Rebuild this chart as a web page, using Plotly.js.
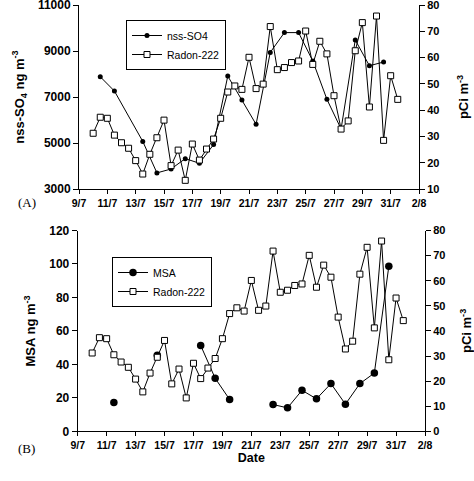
<!DOCTYPE html>
<html><head><meta charset="utf-8">
<script src="https://cdn.plot.ly/plotly-3.0.1.min.js"></script>
<style>body{margin:0;background:#fff}#c{width:474px;height:481px}</style>
</head><body><div id="c"></div>
<script>
// Tick labels
const tickDays = [9, 11, 13, 15, 17, 19, 21, 23, 25, 27, 29, 31, 33];
const tickLabels = ['9/7','11/7','13/7','15/7','17/7','19/7','21/7','23/7','25/7','27/7','29/7','31/7','2/8'];
const nssTicks = [3000, 5000, 7000, 9000, 11000];
const radonTicksTop = [10, 20, 30, 40, 50, 60, 70, 80];
const msaTicks = [0, 20, 40, 60, 80, 100, 120];
const radonTicksBot = [0, 10, 20, 30, 40, 50, 60, 70, 80];

// Radon-222 (pCi m-3), same series in both panels
const radonDays = [10,10.5,11,11.5,12,12.5,13,13.5,14,14.5,15,15.5,16,16.5,17,17.5,18,18.5,19,19.5,20,20.5,21,21.5,22,22.5,23,23.5,24,24.5,25,25.5,26,26.5,27,27.5,28,28.5,29,29.5,30,30.5,31,31.5];
const radon = [31.2,37.3,36.9,30.5,27.6,25.5,20.8,15.7,23.2,29.5,36.2,18.9,24.8,13.3,27.1,21.0,25.2,29.0,36.9,46.9,49.2,47.9,60.1,48.2,49.9,71.8,55.4,56.2,58.1,58.7,70.1,57.4,66.2,61.4,45.5,32.8,35.9,62.6,73.3,41.2,75.8,28.5,53.1,44.1];

// nss-SO4 (ng m-3)
const nssDays = [10.5,11.5,13.5,14.5,15.5,16.5,17.5,18.5,19.5,20.5,21.5,22.5,23.5,24.5,25.5,26.5,27.5,28.5,29.5,30.5];
const nss = [7880,7260,5070,3700,3870,4320,4120,4930,7910,6870,5810,8940,9800,9800,8570,6900,5610,9480,8360,8520];

// MSA (ng m-3); null = missing sample
const msaDays = [11.5,12.5,14.5,15.5,17.5,18.5,19.5,20.5,22.5,23.5,24.5,25.5,26.5,27.5,28.5,29.5,30.5];
const msa = [17.2,null,45.5,null,51.3,31.7,19.0,null,16.0,14.0,24.5,19.4,28.5,16.2,28.5,34.8,98.6];

const W = 474, H = 481;
const px = v => v / W;
const py = v => 1 - v / H;

const FAM = 'Liberation Sans, Arial, sans-serif';
const sq = {symbol:'square', size:6, color:'#fff', line:{color:'#000', width:1}};
const ln = {color:'#000', width:1};
const xtf = {family:FAM, size:10.5, color:'#000', weight:'bold'};
const ltf = {family:FAM, size:12, color:'#000', weight:'bold'};
const rtf = {family:FAM, size:11, color:'#000', weight:'bold'};
const ttf = {family:FAM, size:13, color:'#000', weight:'bold'};

const traces = [
  {x:nssDays, y:nss, xaxis:'x', yaxis:'y', mode:'lines+markers', name:'nss-SO4',
   line:ln, marker:{symbol:'circle', size:5, color:'#000'}, legend:'legend'},
  {x:radonDays, y:radon, xaxis:'x', yaxis:'y2', mode:'lines+markers', name:'Radon-222',
   line:ln, marker:sq, legend:'legend'},
  {x:msaDays, y:msa, xaxis:'x2', yaxis:'y3', mode:'lines+markers', name:'MSA', connectgaps:false,
   line:ln, marker:{symbol:'circle', size:7.5, color:'#000'}, legend:'legend2'},
  {x:radonDays, y:radon, xaxis:'x2', yaxis:'y4', mode:'lines+markers', name:'Radon-222',
   line:ln, marker:sq, legend:'legend2'}
];

const xax = (dom, anchor, title) => ({
  domain:dom, anchor:anchor, range:[9,33], tickmode:'array', tickvals:tickDays, ticktext:tickLabels,
  showgrid:false, zeroline:false, showline:true, linecolor:'#000', linewidth:1,
  ticks:'outside', ticklen:4, tickcolor:'#000', tickfont:xtf,
  title: title ? {text:title, font:{family:FAM, size:12.5, color:'#000', weight:'bold'}, standoff:3} : undefined
});
const yax = (dom, anchor, range, vals, title, side, overlay) => {
  const a = {domain:dom, anchor:anchor, range:range, tickmode:'array', tickvals:vals,
    ticktext:vals.map(String), ticklabeloverflow:'allow',
    showgrid:false, zeroline:false, showline:true, linecolor:'#000', linewidth:1,
    ticks:'outside', ticklen:5, tickcolor:'#000', tickfont: side==='right'?rtf:ltf, side:side,
    title:{text:title, font:ttf, standoff:side==='right'?20:10}};
  if (overlay) a.overlaying = overlay;
  return a;
};

const topY = [py(189), py(5)];
const botY = [py(431.3), py(230.5)];

const legFont = {family:FAM, size:10.5, color:'#000'};
const layout = {
  width:W, height:H, margin:{l:0, r:0, t:0, b:0},
  paper_bgcolor:'#fff', plot_bgcolor:'#fff', showlegend:true,
  xaxis: xax([px(79), px(419)], 'y'),
  yaxis: yax(topY, 'x', [3000, 11000], nssTicks, 'nss-SO<sub>4</sub> ng m<sup>-3</sup>', 'left'),
  yaxis2: yax(topY, 'x', [10, 80], radonTicksTop, 'pCi m<sup>-3</sup>', 'right', 'y'),
  xaxis2: xax([px(77.7), px(425)], 'y3', 'Date'),
  yaxis3: yax(botY, 'x2', [0, 120], msaTicks, 'MSA ng m<sup>-3</sup>', 'left'),
  yaxis4: yax(botY, 'x2', [0, 80], radonTicksBot, 'pCi m<sup>-3</sup>', 'right', 'y3'),
  legend: {x:px(126), y:py(20), xanchor:'left', yanchor:'top', bgcolor:'#fff',
    bordercolor:'#000', borderwidth:1, font:legFont, tracegroupgap:0, itemwidth:30},
  legend2: {x:px(112), y:py(257), xanchor:'left', yanchor:'top', bgcolor:'#fff',
    bordercolor:'#000', borderwidth:1, font:legFont, tracegroupgap:0, itemwidth:30},
  annotations: [
    {text:'(A)', x:px(16), y:py(202), xref:'paper', yref:'paper', showarrow:false,
     font:{family:'Liberation Serif, Times New Roman, serif', size:13, color:'#000'}},
    {text:'(B)', x:px(16), y:py(458), xref:'paper', yref:'paper', showarrow:false,
     font:{family:'Liberation Serif, Times New Roman, serif', size:13, color:'#000'}}
  ]
};

Plotly.newPlot('c', traces, layout, {displayModeBar:false, staticPlot:true});
</script>
</body></html>
